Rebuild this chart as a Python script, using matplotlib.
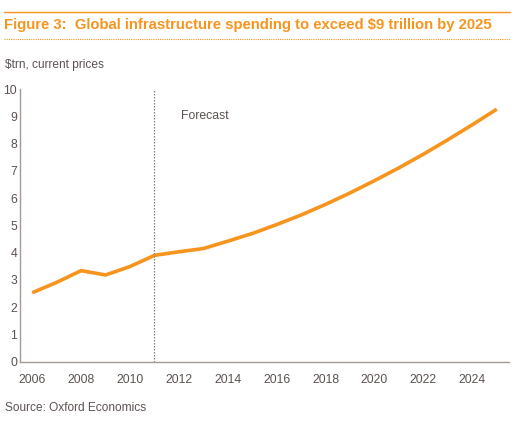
import matplotlib
matplotlib.use("Agg")
import matplotlib.pyplot as plt
from matplotlib.lines import Line2D

years = list(range(2006, 2026))
spending = [2.53, 2.91, 3.34, 3.18, 3.49, 3.90, 4.03, 4.15, 4.42, 4.70,
            5.03, 5.38, 5.77, 6.19, 6.64, 7.11, 7.61, 8.14, 8.69, 9.26]
xticks = list(range(2006, 2025, 2))
yticks = list(range(0, 11))
forecast_start = 2011

ORANGE = "#f7941d"
TXT = "#5b5250"
SPINE = "#a39a94"

plt.rcParams['font.family'] = ['Liberation Sans', 'DejaVu Sans']

fig = plt.figure(figsize=(5.24, 4.24), dpi=100)
ax = fig.add_axes([20/524, 1-361.7/424, (509-20)/524, (361.7-89)/424])

ax.plot(years, spending, color=ORANGE, lw=2.6, solid_capstyle='butt', solid_joinstyle='round')
ax.axvline(forecast_start, color="#888080", lw=0.9, ls=(0, (1.2, 1.2)))
ax.text(2012.1, 9.02, "Forecast", color=TXT, fontsize=8.8, va='center', ha='left')

ax.set_xlim(2005.5, 2025.5)
ax.set_ylim(0, 10)
ax.set_xticks(xticks)
ax.set_yticks(yticks)
ax.tick_params(length=0, labelsize=8.8, labelcolor=TXT)
ax.tick_params(axis='x', pad=8.5)
ax.tick_params(axis='y', pad=2)
for s in ['top', 'right']:
    ax.spines[s].set_visible(False)
for s in ['left', 'bottom']:
    ax.spines[s].set_color(SPINE)
    ax.spines[s].set_linewidth(1.0)

# header decorations
fig.add_artist(Line2D([4/524, 510/524], [1-11.5/424, 1-11.5/424], color=ORANGE, lw=1.0))
fig.add_artist(Line2D([4/524, 510/524], [1-38.5/424, 1-38.5/424], color=ORANGE, lw=0.8, ls=(0, (1, 1))))
fig.text(4/524, 1-25/424, "Figure 3:  Global infrastructure spending to exceed $9 trillion by 2025",
         color=ORANGE, fontsize=10.7, fontweight='bold', va='center', ha='left')
fig.text(5/524, 1-65/424, "$trn, current prices", color=TXT, fontsize=8.6, va='center', ha='left')
fig.text(5/524, 1-408/424, "Source: Oxford Economics", color=TXT, fontsize=8.6, va='center', ha='left')

fig.savefig("out.png", dpi=100)
